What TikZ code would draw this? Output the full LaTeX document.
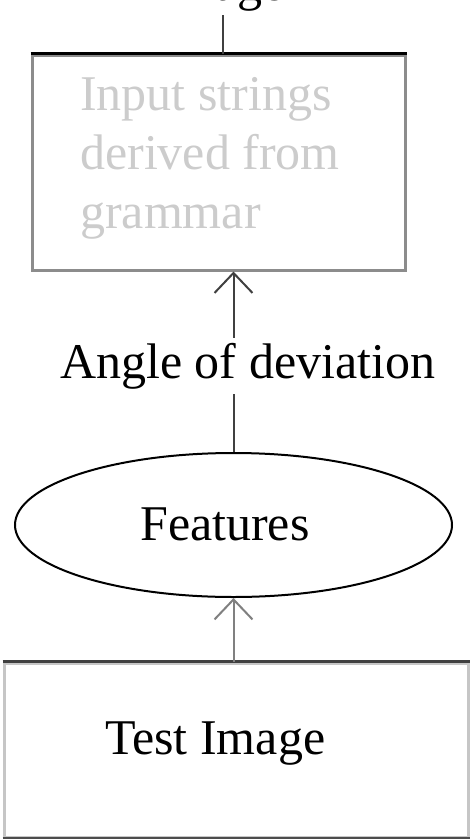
\documentclass[tikz,border=0pt]{standalone}
\usepackage{fontspec}
\setmainfont{Liberation Serif}
\usetikzlibrary{shapes.geometric,arrows.meta}
\begin{document}
\begin{tikzpicture}[x=1pt,y=-1pt,
  font=\fontsize{50}{59}\selectfont,
  boxshape/.style={draw=black!45, line width=3pt, inner sep=0pt},
  txt/.style={anchor=base west, inner sep=0pt},
  conn/.style={draw=black!75, line width=2pt},
  tip/.style={-{Straight Barb[length=20pt,width=38pt]}}]
\useasboundingbox (0,0) rectangle (474,839);
% nodes
\node[txt] (topword) at (160,0) {Image};
\node[boxshape, minimum width=373pt, minimum height=215pt] (box1) at (218.5,162.5) {};
\node[anchor=north west, inner sep=0pt, align=left, text=gray!40] (box1txt) at (80,77) {Input strings\\derived from\\grammar};
\node[draw=black, line width=2pt, ellipse, inner sep=0pt, minimum width=437pt, minimum height=144pt] (feat) at (233.5,525) {};
\node[txt] (feattxt) at (140,540) {Features};
\node[boxshape, draw=gray!45, minimum width=464pt, minimum height=174pt] (test) at (236,750) {};
\node[txt] (testtxt) at (105,754) {Test Image};
% edge overlays
\draw[black, line width=3pt] (box1.north west) -- (box1.north east);
\draw[black!75, line width=3pt] (test.north west) -- (test.north east);
\draw[black!70, line width=3pt] (test.south west) -- (test.south east);
% connectors
\coordinate (topend) at (223,15);
\draw[conn] (topend) -- (topend |- box1.north);
\draw[conn, tip] (feat.north) -- (feat.north |- box1.south);
\draw[conn, draw=black!50, tip] (test.north -| feat.south) -- (feat.south);
% label over the connector
\node[anchor=base west, fill=white, inner xsep=2pt, inner ysep=5pt] (angle) at (58,378) {Angle of deviation};
\end{tikzpicture}
\end{document}
